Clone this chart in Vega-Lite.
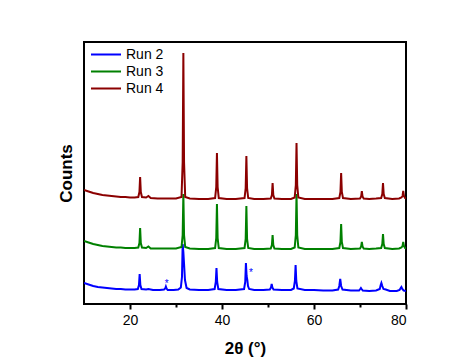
{
 "$schema": "https://vega.github.io/schema/vega-lite/v6.json",
 "width": 322, "height": 262,
 "autosize": {"type": "none"},
 "padding": {"left": 84, "top": 42, "right": 68, "bottom": 60},
 "background": "white",
 "config": {"view": {"stroke": "black", "strokeWidth": 2}, "font": "Liberation Sans"},
 "datasets": {
  "xrd": [
   {"s":"Run 2","x":10,"y":21},{"s":"Run 2","x":11,"y":19.5},{"s":"Run 2","x":12,"y":18},{"s":"Run 2","x":13,"y":17},{"s":"Run 2","x":14,"y":16.5},{"s":"Run 2","x":15,"y":16},{"s":"Run 2","x":16,"y":15.5},{"s":"Run 2","x":17,"y":15},{"s":"Run 2","x":18,"y":15},{"s":"Run 2","x":19,"y":14.5},{"s":"Run 2","x":20,"y":14.5},{"s":"Run 2","x":21,"y":14.5},{"s":"Run 2","x":21.7,"y":15},{"s":"Run 2","x":21.95,"y":19},{"s":"Run 2","x":22.1,"y":30},{"s":"Run 2","x":22.25,"y":19},{"s":"Run 2","x":22.5,"y":15},{"s":"Run 2","x":23.5,"y":14.5},{"s":"Run 2","x":24,"y":15},{"s":"Run 2","x":25,"y":14},{"s":"Run 2","x":26.5,"y":14},{"s":"Run 2","x":27.4,"y":14.5},{"s":"Run 2","x":27.65,"y":15.5},{"s":"Run 2","x":27.8,"y":17.5},{"s":"Run 2","x":27.95,"y":15.5},{"s":"Run 2","x":28.2,"y":14},{"s":"Run 2","x":29.5,"y":14},{"s":"Run 2","x":30.5,"y":14.5},{"s":"Run 2","x":31.05,"y":16.5},{"s":"Run 2","x":31.3,"y":27},{"s":"Run 2","x":31.45,"y":60},{"s":"Run 2","x":31.6,"y":52},{"s":"Run 2","x":31.75,"y":40},{"s":"Run 2","x":31.95,"y":24},{"s":"Run 2","x":32.3,"y":16},{"s":"Run 2","x":33,"y":14.5},{"s":"Run 2","x":35,"y":14},{"s":"Run 2","x":37,"y":14},{"s":"Run 2","x":38.4,"y":15},{"s":"Run 2","x":38.65,"y":22},{"s":"Run 2","x":38.8,"y":36},{"s":"Run 2","x":38.95,"y":22},{"s":"Run 2","x":39.2,"y":15},{"s":"Run 2","x":41,"y":14},{"s":"Run 2","x":43,"y":14},{"s":"Run 2","x":44.8,"y":15},{"s":"Run 2","x":45.05,"y":22},{"s":"Run 2","x":45.2,"y":41},{"s":"Run 2","x":45.35,"y":28},{"s":"Run 2","x":45.5,"y":24},{"s":"Run 2","x":45.65,"y":18},{"s":"Run 2","x":45.9,"y":15},{"s":"Run 2","x":47,"y":14},{"s":"Run 2","x":49,"y":14},{"s":"Run 2","x":50.4,"y":14.5},{"s":"Run 2","x":50.65,"y":16.5},{"s":"Run 2","x":50.8,"y":20},{"s":"Run 2","x":50.95,"y":16.5},{"s":"Run 2","x":51.2,"y":14.5},{"s":"Run 2","x":53,"y":14},{"s":"Run 2","x":55,"y":14},{"s":"Run 2","x":55.6,"y":15.5},{"s":"Run 2","x":55.85,"y":23},{"s":"Run 2","x":56,"y":39},{"s":"Run 2","x":56.15,"y":23},{"s":"Run 2","x":56.4,"y":15.5},{"s":"Run 2","x":58,"y":14},{"s":"Run 2","x":60,"y":14},{"s":"Run 2","x":62,"y":13.5},{"s":"Run 2","x":64,"y":13.5},{"s":"Run 2","x":65.25,"y":14.5},{"s":"Run 2","x":65.5,"y":18},{"s":"Run 2","x":65.7,"y":25},{"s":"Run 2","x":65.9,"y":18},{"s":"Run 2","x":66.2,"y":14.5},{"s":"Run 2","x":68,"y":13.5},{"s":"Run 2","x":69.8,"y":13.5},{"s":"Run 2","x":70.05,"y":15},{"s":"Run 2","x":70.2,"y":16},{"s":"Run 2","x":70.35,"y":15},{"s":"Run 2","x":70.6,"y":13.5},{"s":"Run 2","x":72,"y":13},{"s":"Run 2","x":73.5,"y":13.5},{"s":"Run 2","x":74.3,"y":15},{"s":"Run 2","x":74.5,"y":19},{"s":"Run 2","x":74.65,"y":21},{"s":"Run 2","x":74.85,"y":18},{"s":"Run 2","x":75.1,"y":15},{"s":"Run 2","x":75.6,"y":14.5},{"s":"Run 2","x":76.5,"y":13},{"s":"Run 2","x":78,"y":13},{"s":"Run 2","x":78.6,"y":14},{"s":"Run 2","x":78.85,"y":16},{"s":"Run 2","x":79,"y":17},{"s":"Run 2","x":79.2,"y":15},{"s":"Run 2","x":79.5,"y":13.5},{"s":"Run 2","x":80,"y":13},

   {"s":"Run 3","x":10,"y":63},{"s":"Run 3","x":11,"y":61.5},{"s":"Run 3","x":12,"y":60},{"s":"Run 3","x":13,"y":59},{"s":"Run 3","x":14,"y":58},{"s":"Run 3","x":15,"y":57.5},{"s":"Run 3","x":16,"y":57},{"s":"Run 3","x":17,"y":56.5},{"s":"Run 3","x":18,"y":56.5},{"s":"Run 3","x":19,"y":56},{"s":"Run 3","x":20,"y":56},{"s":"Run 3","x":21,"y":56},{"s":"Run 3","x":21.8,"y":56.5},{"s":"Run 3","x":22.05,"y":61},{"s":"Run 3","x":22.2,"y":76},{"s":"Run 3","x":22.35,"y":61},{"s":"Run 3","x":22.6,"y":56.5},{"s":"Run 3","x":23.5,"y":56},{"s":"Run 3","x":24,"y":57.5},{"s":"Run 3","x":24.5,"y":55.5},{"s":"Run 3","x":26,"y":55.5},{"s":"Run 3","x":28,"y":55.5},{"s":"Run 3","x":30,"y":55.5},{"s":"Run 3","x":31.2,"y":57},{"s":"Run 3","x":31.45,"y":69},{"s":"Run 3","x":31.6,"y":110},{"s":"Run 3","x":31.75,"y":69},{"s":"Run 3","x":32,"y":57},{"s":"Run 3","x":33,"y":55.5},{"s":"Run 3","x":35,"y":55},{"s":"Run 3","x":37,"y":55},{"s":"Run 3","x":38.5,"y":56},{"s":"Run 3","x":38.75,"y":66},{"s":"Run 3","x":38.9,"y":100},{"s":"Run 3","x":39.05,"y":66},{"s":"Run 3","x":39.3,"y":56},{"s":"Run 3","x":41,"y":55},{"s":"Run 3","x":43,"y":55},{"s":"Run 3","x":44.9,"y":56},{"s":"Run 3","x":45.15,"y":65},{"s":"Run 3","x":45.3,"y":98},{"s":"Run 3","x":45.45,"y":65},{"s":"Run 3","x":45.7,"y":56},{"s":"Run 3","x":47,"y":55},{"s":"Run 3","x":49,"y":55},{"s":"Run 3","x":50.6,"y":55.5},{"s":"Run 3","x":50.85,"y":59},{"s":"Run 3","x":51,"y":69},{"s":"Run 3","x":51.15,"y":59},{"s":"Run 3","x":51.4,"y":55.5},{"s":"Run 3","x":53,"y":55},{"s":"Run 3","x":55,"y":55},{"s":"Run 3","x":55.8,"y":56.5},{"s":"Run 3","x":56.05,"y":69},{"s":"Run 3","x":56.2,"y":110},{"s":"Run 3","x":56.35,"y":69},{"s":"Run 3","x":56.6,"y":56.5},{"s":"Run 3","x":58,"y":55},{"s":"Run 3","x":60,"y":55},{"s":"Run 3","x":62,"y":55},{"s":"Run 3","x":64,"y":55},{"s":"Run 3","x":65.5,"y":56},{"s":"Run 3","x":65.75,"y":62},{"s":"Run 3","x":65.9,"y":80},{"s":"Run 3","x":66.05,"y":62},{"s":"Run 3","x":66.3,"y":56},{"s":"Run 3","x":68,"y":55},{"s":"Run 3","x":70,"y":55.5},{"s":"Run 3","x":70.25,"y":57.5},{"s":"Run 3","x":70.4,"y":62},{"s":"Run 3","x":70.55,"y":57.5},{"s":"Run 3","x":70.8,"y":55.5},{"s":"Run 3","x":72,"y":55},{"s":"Run 3","x":73.5,"y":55.5},{"s":"Run 3","x":74.6,"y":56},{"s":"Run 3","x":74.85,"y":60},{"s":"Run 3","x":75,"y":70},{"s":"Run 3","x":75.15,"y":60},{"s":"Run 3","x":75.4,"y":56},{"s":"Run 3","x":77,"y":55},{"s":"Run 3","x":78.5,"y":55.5},{"s":"Run 3","x":79,"y":56.5},{"s":"Run 3","x":79.25,"y":58},{"s":"Run 3","x":79.4,"y":62},{"s":"Run 3","x":79.55,"y":58},{"s":"Run 3","x":79.8,"y":56},{"s":"Run 3","x":80,"y":55.5},

   {"s":"Run 4","x":10,"y":114},{"s":"Run 4","x":11,"y":112.5},{"s":"Run 4","x":12,"y":111},{"s":"Run 4","x":13,"y":110},{"s":"Run 4","x":14,"y":109},{"s":"Run 4","x":15,"y":108.5},{"s":"Run 4","x":16,"y":108},{"s":"Run 4","x":17,"y":107.5},{"s":"Run 4","x":18,"y":107},{"s":"Run 4","x":19,"y":107},{"s":"Run 4","x":20,"y":106.5},{"s":"Run 4","x":21,"y":106.5},{"s":"Run 4","x":21.8,"y":107},{"s":"Run 4","x":22.05,"y":112},{"s":"Run 4","x":22.2,"y":127},{"s":"Run 4","x":22.35,"y":112},{"s":"Run 4","x":22.6,"y":107},{"s":"Run 4","x":23.5,"y":106.5},{"s":"Run 4","x":24,"y":108},{"s":"Run 4","x":24.5,"y":106},{"s":"Run 4","x":26,"y":105.5},{"s":"Run 4","x":28,"y":105.5},{"s":"Run 4","x":30,"y":105.5},{"s":"Run 4","x":31.2,"y":107},{"s":"Run 4","x":31.45,"y":142},{"s":"Run 4","x":31.6,"y":251},{"s":"Run 4","x":31.75,"y":142},{"s":"Run 4","x":32,"y":107},{"s":"Run 4","x":33,"y":105.5},{"s":"Run 4","x":35,"y":105},{"s":"Run 4","x":37,"y":105},{"s":"Run 4","x":38.5,"y":106},{"s":"Run 4","x":38.75,"y":117},{"s":"Run 4","x":38.9,"y":151},{"s":"Run 4","x":39.05,"y":117},{"s":"Run 4","x":39.3,"y":106},{"s":"Run 4","x":41,"y":105},{"s":"Run 4","x":43,"y":105},{"s":"Run 4","x":44.9,"y":106},{"s":"Run 4","x":45.15,"y":116},{"s":"Run 4","x":45.3,"y":148},{"s":"Run 4","x":45.45,"y":116},{"s":"Run 4","x":45.7,"y":106},{"s":"Run 4","x":47,"y":105},{"s":"Run 4","x":49,"y":105},{"s":"Run 4","x":50.6,"y":105.5},{"s":"Run 4","x":50.85,"y":109},{"s":"Run 4","x":51,"y":121},{"s":"Run 4","x":51.15,"y":109},{"s":"Run 4","x":51.4,"y":105.5},{"s":"Run 4","x":53,"y":105},{"s":"Run 4","x":55,"y":105},{"s":"Run 4","x":55.8,"y":106.5},{"s":"Run 4","x":56.05,"y":119},{"s":"Run 4","x":56.2,"y":161},{"s":"Run 4","x":56.35,"y":119},{"s":"Run 4","x":56.6,"y":106.5},{"s":"Run 4","x":58,"y":105},{"s":"Run 4","x":60,"y":105},{"s":"Run 4","x":62,"y":105},{"s":"Run 4","x":64,"y":105},{"s":"Run 4","x":65.5,"y":106},{"s":"Run 4","x":65.75,"y":112},{"s":"Run 4","x":65.9,"y":131},{"s":"Run 4","x":66.05,"y":112},{"s":"Run 4","x":66.3,"y":106},{"s":"Run 4","x":68,"y":105},{"s":"Run 4","x":70,"y":105.5},{"s":"Run 4","x":70.25,"y":107.5},{"s":"Run 4","x":70.4,"y":113},{"s":"Run 4","x":70.55,"y":107.5},{"s":"Run 4","x":70.8,"y":105.5},{"s":"Run 4","x":72,"y":105},{"s":"Run 4","x":73.5,"y":105.5},{"s":"Run 4","x":74.6,"y":106},{"s":"Run 4","x":74.85,"y":110},{"s":"Run 4","x":75,"y":121},{"s":"Run 4","x":75.15,"y":110},{"s":"Run 4","x":75.4,"y":106},{"s":"Run 4","x":77,"y":105},{"s":"Run 4","x":78.5,"y":105.5},{"s":"Run 4","x":79,"y":106.5},{"s":"Run 4","x":79.25,"y":108},{"s":"Run 4","x":79.4,"y":113},{"s":"Run 4","x":79.55,"y":108},{"s":"Run 4","x":79.8,"y":106},{"s":"Run 4","x":80,"y":105.5}
  ],
  "stars": [
   {"x":28.0,"y":20,"t":"*"},
   {"x":46.3,"y":31,"t":"*"}
  ]
 },
 "layer": [
  {
   "data": {"name": "xrd"},
   "mark": {"type": "line", "strokeWidth": 2, "clip": true},
   "encoding": {
    "x": {"field": "x", "type": "quantitative",
     "scale": {"domain": [10, 80], "nice": false, "zero": false},
     "axis": {"title": "2θ (°)", "values": [20, 30, 40, 50, 60, 70, 80],
      "labelExpr": "datum.value % 20 === 0 ? datum.label : ''",
      "tickSize": {"condition": {"test": "datum.value % 20 === 0", "value": 5}, "value": 3},
      "tickColor": "black", "tickWidth": 2, "domain": false, "grid": false,
      "labelFontSize": 14, "labelColor": "black", "labelPadding": 4,
      "titleFontSize": 17, "titleFontWeight": "bold", "titleColor": "black", "titlePadding": 13}},
    "y": {"field": "y", "type": "quantitative",
     "scale": {"domain": [0, 262], "nice": false},
     "axis": {"title": "Counts", "labels": false, "ticks": false, "domain": false, "grid": false,
      "titleFontSize": 17, "titleFontWeight": "bold", "titleColor": "black", "titlePadding": 9}},
    "color": {"field": "s", "type": "nominal",
     "scale": {"domain": ["Run 2", "Run 3", "Run 4"], "range": ["#0000ff", "#008000", "#8b0000"]},
     "legend": {"orient": "none", "legendX": 6, "legendY": 4, "title": null,
      "symbolType": "stroke", "symbolSize": 900, "symbolStrokeWidth": 2,
      "clipHeight": 17, "rowPadding": 0, "labelFontSize": 14, "labelColor": "black",
      "labelOffset": 4, "padding": 0}}
   }
  },
  {
   "data": {"name": "stars"},
   "mark": {"type": "text", "color": "#0000ff", "fontSize": 10, "baseline": "middle"},
   "encoding": {
    "x": {"field": "x", "type": "quantitative"},
    "y": {"field": "y", "type": "quantitative"},
    "text": {"field": "t"}
   }
  }
 ]
}
